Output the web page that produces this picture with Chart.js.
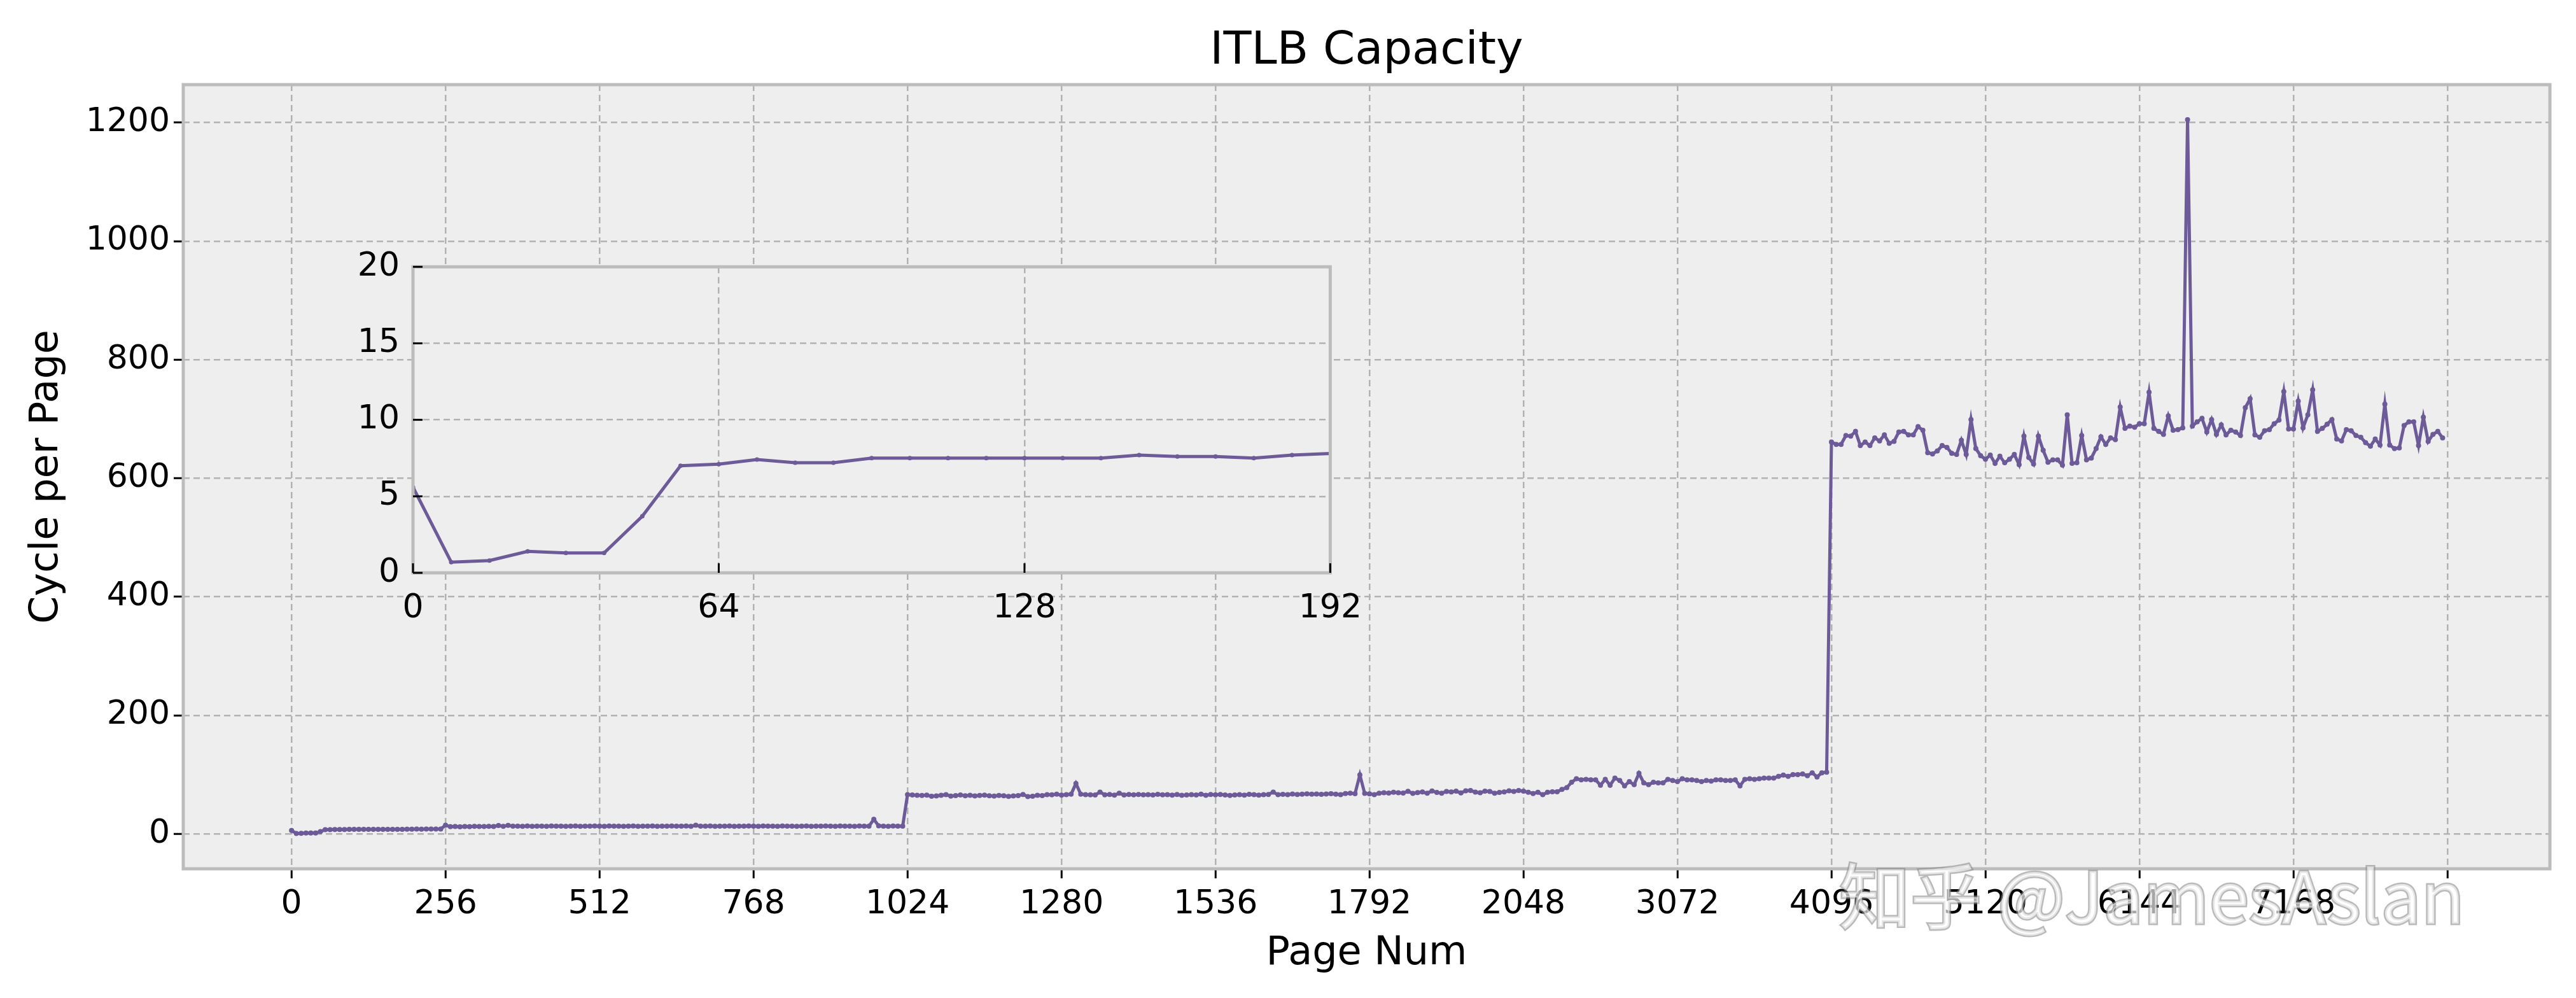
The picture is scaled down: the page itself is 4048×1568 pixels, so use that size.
<!DOCTYPE html>
<html>
<head>
<meta charset="utf-8">
<script src="https://cdn.jsdelivr.net/npm/chart.js@4/dist/chart.umd.min.js"></script>
<style>
  html, body { margin: 0; padding: 0; background: #fff; }
  #wrap { position: relative; width: 4048px; height: 1568px; }
  #main { position: absolute; left: 0; top: 0; }
  #inset { position: absolute; left: 449px; top: 367px; }
</style>
</head>
<body>
<div id="wrap">
  <canvas id="main" width="4048" height="1568"></canvas>
  <canvas id="inset" width="1716" height="613"></canvas>
</div>
<script>
// Tick labels of the x axis (one per 32 samples)
const pageTicks = ['0', '256', '512', '768', '1024', '1280', '1536', '1792', '2048', '3072', '4096', '5120', '6144', '7168', ''];
const yTicks = [0, 200, 400, 600, 800, 1000, 1200];
const insetXTicks = ['0', '64', '128', '192'];
const insetYTicks = [0, 5, 10, 15, 20];

// pages 0..1016, step 8
const segA = [
  5.6, 0.7, 0.8, 1.4, 1.3, 1.3, 3.7, 7.0, 7.1, 7.4, 7.2, 7.2, 7.5, 7.5, 7.5, 7.5,
  7.5, 7.5, 7.5, 7.7, 7.6, 7.6, 7.5, 7.7, 7.8, 7.9, 8.0, 7.8, 8.1, 8.0, 8.2, 8.1,
  14.5, 12.1, 12.3, 12.0, 12.4, 12.2, 12.6, 12.3, 12.5, 12.8, 12.4, 13.9, 12.6, 14.2, 12.9, 13.0,
  12.8, 13.1, 12.7, 12.9, 13.0, 12.8, 13.1, 12.9, 13.0, 12.7, 12.9, 13.1, 12.8, 13.0, 12.9, 13.1,
  13.0, 12.8, 13.1, 12.9, 13.0, 12.8, 12.9, 13.1, 12.8, 13.0, 12.9, 13.2, 12.8, 13.0, 12.9, 13.1,
  13.0, 12.9, 13.1, 12.8, 14.6, 13.0, 12.9, 13.1, 12.8, 13.0, 12.9, 13.1, 12.8, 13.0, 12.9, 13.1,
  13.0, 12.8, 13.1, 12.9, 13.0, 12.8, 13.1, 12.9, 13.0, 12.8, 12.9, 13.1, 12.8, 13.0, 12.9, 13.1,
  13.0, 12.8, 13.1, 12.9, 13.0, 12.8, 13.1, 12.9, 13.0, 24.5, 13.4, 13.0, 12.8, 13.1, 12.9, 13.0
];
// pages 1024..2040, step 8
const segB = [
  66, 65.5, 65, 64.8, 65.2, 63.5, 64, 65, 66, 63.8, 64.5, 65.6, 64.2, 65, 63.9, 64.7,
  65.2, 64.1, 63.6, 64.8, 64.3, 63.2, 63.9, 64.4, 66.5, 62.8, 63.5, 65.1, 64.6, 66.2, 65.8, 66.9,
  65.4, 66.1, 66.8, 85, 67, 66.2, 65.8, 65.5, 70.5, 65.9, 66.4, 65.2, 68.5, 65.7, 66.3, 65.9,
  66.4, 65.8, 66.2, 65.5, 66.7, 65.9, 66.1, 65.4, 66.3, 64.9, 65.7, 66.2, 65.6, 66.8, 65.1, 66.4,
  65.9, 66.3, 65.7, 64.8, 65.6, 66.1, 65.3, 66.7, 66.2, 65.4, 66, 66.5, 70.3, 66, 66.6, 66.1,
  67.2, 66.4, 66.8, 67.5, 66.9, 67.3, 66.6, 67.1, 67.6, 66.8, 66.2, 67.9, 68.6, 67.8, 99.5, 68.2,
  67.4, 66.1, 68.5, 69.2, 68.8, 70.1, 69.4, 68.7, 71.8, 68.2, 69.5, 70.6, 68.4, 72.3, 69.8, 68.6,
  71.5, 70.8, 71.9, 69.1, 72.6, 73.2, 70.4, 69.2, 72.1, 71.5, 68.4, 69.9, 70.8, 72.5, 71.6, 73.0
];
// pages 2048..4064, step 32
const segC = [
  72, 70, 68, 70, 66, 70, 71, 71, 75, 78, 87, 93, 91, 92, 91, 91,
  82, 92, 82, 94, 90, 81, 88, 83, 102, 86, 83, 87, 86, 86, 92, 90,
  88, 93, 91, 91, 90, 88, 90, 89, 91, 91, 90, 90, 91, 81, 92, 93,
  92, 93, 94, 94, 94, 97, 99, 97, 100, 100, 101, 98, 103, 96, 103, 104
];
// pages 4096..8160, step 32
const segD = [
  661, 657, 657, 672, 671, 679, 655, 661, 655, 668, 663, 673, 659, 662, 678, 679,
  673, 673, 687, 681, 643, 641, 646, 655, 652, 642, 640, 664, 640, 699, 650, 638,
  632, 639, 625, 637, 626, 632, 640, 623, 671, 635, 624, 671, 647, 627, 631, 631,
  622, 707, 625, 626, 672, 631, 634, 650, 670, 657, 668, 665, 720, 684, 688, 686,
  692, 692, 745, 684, 679, 674, 705, 681, 682, 685, 1205, 688, 695, 701, 678, 699,
  674, 690, 673, 681, 678, 672, 719, 734, 673, 669, 680, 682, 692, 698, 746, 683,
  683, 730, 685, 707, 749, 679, 684, 691, 699, 666, 663, 682, 680, 672, 669, 660,
  654, 666, 656, 725, 656, 650, 651, 689, 695, 695, 655, 703, 662, 674, 679, 668
];

const cycles = segA.concat(segB, segC, segD);
const points = cycles.map((v, i) => ({ x: i, y: v }));
const insetPoints = points.slice(0, 25);

const LINE = '#6d5a98';
const FONT = '"DejaVu Sans", sans-serif';
Chart.defaults.font.family = FONT;
Chart.defaults.color = '#000';

// plot background, frame and free text
const framePlugin = {
  id: 'frame',
  beforeDraw(chart) {
    const a = chart.chartArea, c = chart.ctx;
    c.save();
    c.fillStyle = '#eeeeee';
    c.fillRect(a.left, a.top, a.width, a.height);
    c.restore();
  },
  afterDraw(chart, args, opts) {
    const a = chart.chartArea, c = chart.ctx;
    c.save();
    c.strokeStyle = '#bcbcbc';
    c.lineWidth = 5;
    c.strokeRect(a.left, a.top, a.width, a.height);
    if (opts.inwardTicks) {
      c.strokeStyle = '#000';
      c.lineWidth = 3;
      const xs = chart.scales.x, ys = chart.scales.y;
      xs.ticks.forEach(t => {
        const px = xs.getPixelForValue(t.value);
        c.beginPath(); c.moveTo(px, a.bottom); c.lineTo(px, a.bottom - 15); c.stroke();
      });
      ys.ticks.forEach(t => {
        const py = ys.getPixelForValue(t.value);
        c.beginPath(); c.moveTo(a.left, py); c.lineTo(a.left + 15, py); c.stroke();
      });
    }
    if (opts.texts) {
      c.fillStyle = '#000';
      c.textAlign = 'center';
      c.textBaseline = 'alphabetic';
      c.font = '72px ' + FONT;
      c.fillText('ITLB Capacity', (a.left + a.right) / 2, 100);
      c.font = '62px ' + FONT;
      c.fillText('Page Num', (a.left + a.right) / 2, 1515);
      c.save();
      c.translate(90, (a.top + a.bottom) / 2);
      c.rotate(-Math.PI / 2);
      c.fillText('Cycle per Page', 0, 0);
      c.restore();
      // watermark
      c.font = '112px "Noto Sans CJK SC", ' + FONT;
      c.textAlign = 'left';
      c.textBaseline = 'middle';
      c.lineWidth = 5;
      c.strokeStyle = 'rgba(140,140,140,0.6)';
      c.fillStyle = 'rgba(255,255,255,0.65)';
      c.strokeText('知乎 @JamesAslan', 2890, 1408);
      c.fillText('知乎 @JamesAslan', 2890, 1408);
    }
    c.restore();
  }
};

const gridStyle = { color: '#b2b2b2', lineWidth: 2.5, tickColor: '#000', tickLength: 15, tickWidth: 3 };
const borderStyle = { display: false, dash: [10, 6] };

new Chart(document.getElementById('main'), {
  type: 'line',
  data: {
    datasets: [{
      data: points,
      borderColor: LINE,
      backgroundColor: LINE,
      borderWidth: 5,
      pointRadius: 4,
      pointBorderWidth: 0,
      tension: 0
    }]
  },
  options: {
    responsive: false,
    devicePixelRatio: 1,
    animation: false,
    parsing: false,
    layout: { padding: { top: 133, right: 41, left: 0, bottom: 0 } },
    plugins: {
      legend: { display: false },
      tooltip: { enabled: false },
      frame: { texts: true }
    },
    scales: {
      x: {
        type: 'linear',
        min: -22.5,
        max: 469.3,
        afterBuildTicks: s => { s.ticks = pageTicks.map((_, i) => ({ value: i * 32 })); },
        afterFit: s => { s.height = 203; },
        ticks: {
          autoSkip: false, maxRotation: 0, padding: 10,
          font: { size: 52 },
          callback: (v) => pageTicks[Math.round(v / 32)]
        },
        grid: gridStyle,
        border: borderStyle
      },
      y: {
        min: -59,
        max: 1264,
        afterBuildTicks: s => { s.ticks = yTicks.map(v => ({ value: v })); },
        afterFit: s => { s.width = 288; },
        ticks: { padding: 6, font: { size: 52 }, callback: v => String(v) },
        grid: gridStyle,
        border: borderStyle
      }
    }
  },
  plugins: [framePlugin]
});

new Chart(document.getElementById('inset'), {
  type: 'line',
  data: {
    datasets: [{
      data: insetPoints,
      borderColor: LINE,
      backgroundColor: LINE,
      borderWidth: 5,
      pointRadius: 3.5,
      pointBorderWidth: 0,
      tension: 0
    }]
  },
  options: {
    responsive: false,
    devicePixelRatio: 1,
    animation: false,
    parsing: false,
    layout: { padding: { top: 29, right: 60, left: 0, bottom: 0 } },
    plugins: {
      legend: { display: false },
      tooltip: { enabled: false },
      frame: { inwardTicks: true }
    },
    scales: {
      x: {
        type: 'linear',
        min: 0,
        max: 24,
        afterBuildTicks: s => { s.ticks = insetXTicks.map((_, i) => ({ value: i * 8 })); },
        afterFit: s => { s.height = 80; },
        ticks: {
          autoSkip: false, maxRotation: 0, padding: 25,
          font: { size: 52 },
          callback: (v) => insetXTicks[Math.round(v / 8)]
        },
        grid: { color: '#b2b2b2', lineWidth: 2.5, drawTicks: false },
        border: borderStyle
      },
      y: {
        min: 0,
        max: 20,
        afterBuildTicks: s => { s.ticks = insetYTicks.map(v => ({ value: v })); },
        afterFit: s => { s.width = 200; },
        ticks: { padding: 21, font: { size: 52 } },
        grid: { color: '#b2b2b2', lineWidth: 2.5, drawTicks: false },
        border: borderStyle
      }
    }
  },
  plugins: [framePlugin]
});
</script>
</body>
</html>
